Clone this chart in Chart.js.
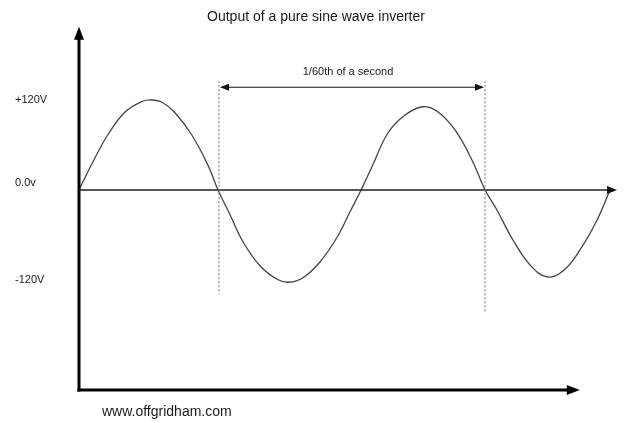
<!DOCTYPE html>
<html>
<head>
<meta charset="utf-8">
<script src="https://cdn.jsdelivr.net/npm/chart.js@4/dist/chart.umd.min.js"></script>
<style>
  html, body { margin: 0; padding: 0; background: #ffffff; }
  #wrap { width: 624px; height: 423px; }
</style>
</head>
<body>
<div id="wrap"><canvas id="inverter" width="624" height="423"></canvas></div>
<script>
// Time (ms) and voltage (V)
const timeMs = [0, 0.81, 1.81, 2.88, 3.94, 4.5, 5.19, 6.0, 7.06, 8.06, 8.69,
  9.44, 10.25, 11.31, 12.38, 13.13, 14.0, 15.06, 16.13, 16.94, 17.63,
  18.31, 19.31, 20.38, 21.5, 22.44, 23.5, 24.56, 25.38,
  26.13, 27.13, 28.19, 29.25, 30.25, 31.31, 32.38, 33.19];
const voltage = [0, 35, 74, 104, 118, 120, 117, 103, 73, 33, 0,
  -33, -69, -101, -119, -123, -117, -96, -63, -29, 0,
  31, 76, 100, 111, 104, 80, 40, 0,
  -27, -67, -100, -116, -108, -80, -40, 0];

// Axis labels
const yTickValues = [120, 0, -120];
const yTickLabels = ['+120V', '0.0v', '-120V'];

// Range shown and annotation values
const timeMax = 33.625;
const bottomAxisEnd = 31.3;
const voltMax = 217.6;
const voltMin = -266.7;
const periodStart = 8.75;
const periodEnd = 25.375;
const periodLabel = '1/60th of a second';
const titleText = 'Output of a pure sine wave inverter';
const footerText = 'www.offgridham.com';

const FONT = '"Liberation Sans", Arial, sans-serif';

// petite fonction pour les pointes de flèche
function arrowHead(ctx, tipX, tipY, dx, dy, len, half) {
  const px = -dy, py = dx;
  ctx.beginPath();
  ctx.moveTo(tipX, tipY);
  ctx.lineTo(tipX - dx * len + px * half, tipY - dy * len + py * half);
  ctx.lineTo(tipX - dx * len - px * half, tipY - dy * len - py * half);
  ctx.closePath();
  ctx.fill();
}

const diagramPlugin = {
  id: 'diagram',
  afterDatasetsDraw(chart) {
    const { ctx, chartArea, scales: { x, y } } = chart;
    const x0 = x.getPixelForValue(0);
    const yZero = y.getPixelForValue(0);
    const top = chartArea.top;
    const bottom = chartArea.bottom;
    ctx.save();
    ctx.fillStyle = '#000';
    ctx.strokeStyle = '#000';

    // axe vertical
    ctx.lineWidth = 3;
    ctx.beginPath();
    ctx.moveTo(x0, bottom + 1.5);
    ctx.lineTo(x0, top + 8);
    ctx.stroke();
    arrowHead(ctx, x0, top, 0, -1, 13, 5);

    // axe du bas
    const xb = x.getPixelForValue(bottomAxisEnd);
    ctx.beginPath();
    ctx.moveTo(x0 - 1.5, bottom);
    ctx.lineTo(xb - 8, bottom);
    ctx.stroke();
    arrowHead(ctx, xb, bottom, 1, 0, 13, 5);

    // ligne du zéro
    ctx.lineWidth = 1.3;
    ctx.strokeStyle = '#222';
    ctx.fillStyle = '#111';
    ctx.beginPath();
    ctx.moveTo(x0, yZero);
    ctx.lineTo(x.right - 6, yZero);
    ctx.stroke();
    arrowHead(ctx, x.right, yZero, 1, 0, 10, 4);

    // pointillés verticaux
    const xs = x.getPixelForValue(periodStart);
    const xe = x.getPixelForValue(periodEnd);
    ctx.lineWidth = 1;
    ctx.strokeStyle = '#777';
    ctx.setLineDash([2, 2]);
    ctx.beginPath();
    ctx.moveTo(xs, y.getPixelForValue(145));
    ctx.lineTo(xs, y.getPixelForValue(-139));
    ctx.moveTo(xe, y.getPixelForValue(145));
    ctx.lineTo(xe, y.getPixelForValue(-164));
    ctx.stroke();
    ctx.setLineDash([]);

    // flèche de cote
    const ya = y.getPixelForValue(137);
    ctx.strokeStyle = '#111';
    ctx.beginPath();
    ctx.moveTo(xs + 4, ya);
    ctx.lineTo(xe - 4, ya);
    ctx.stroke();
    arrowHead(ctx, xs + 1, ya, -1, 0, 9, 3.5);
    arrowHead(ctx, xe - 1, ya, 1, 0, 9, 3.5);

    // textes
    ctx.fillStyle = '#1a1a1a';
    ctx.font = '11px ' + FONT;
    ctx.textAlign = 'center';
    ctx.textBaseline = 'middle';
    ctx.fillText(periodLabel, (xs + xe) / 2 - 4, y.getPixelForValue(158));

    ctx.font = '14px ' + FONT;
    ctx.textAlign = 'left';
    ctx.fillText(footerText, 102, 412);
    ctx.restore();
  }
};

new Chart(document.getElementById('inverter').getContext('2d'), {
  type: 'line',
  data: {
    datasets: [{
      data: timeMs.map((t, i) => ({ x: t, y: voltage[i] })),
      borderColor: '#444',
      borderWidth: 1.3,
      pointRadius: 0,
      fill: false,
      tension: 0.4
    }]
  },
  options: {
    responsive: false,
    animation: false,
    devicePixelRatio: 1,
    layout: { padding: { left: 15, right: 7, top: 0, bottom: 33 } },
    plugins: {
      legend: { display: false },
      tooltip: { enabled: false },
      title: {
        display: true,
        text: titleText,
        color: '#1a1a1a',
        font: { family: FONT, size: 14, weight: 'normal' },
        padding: { top: 9, bottom: 1 }
      }
    },
    scales: {
      x: { type: 'linear', min: 0, max: timeMax, display: false },
      y: {
        min: voltMin,
        max: voltMax,
        grid: { display: false },
        border: { display: false },
        afterBuildTicks: (scale) => {
          scale.ticks = yTickValues.map(v => ({ value: v }));
        },
        afterFit: (scale) => { scale.width = 64; },
        ticks: {
          autoSkip: false,
          crossAlign: 'far',
          color: '#1a1a1a',
          font: { family: FONT, size: 11 },
          // deux lignes pour remonter un peu le "0.0v"
          callback: (value) => {
            const label = yTickLabels[yTickValues.indexOf(value)];
            return value === 0 ? [label, ''] : label;
          }
        }
      }
    }
  },
  plugins: [diagramPlugin]
});
</script>
</body>
</html>
